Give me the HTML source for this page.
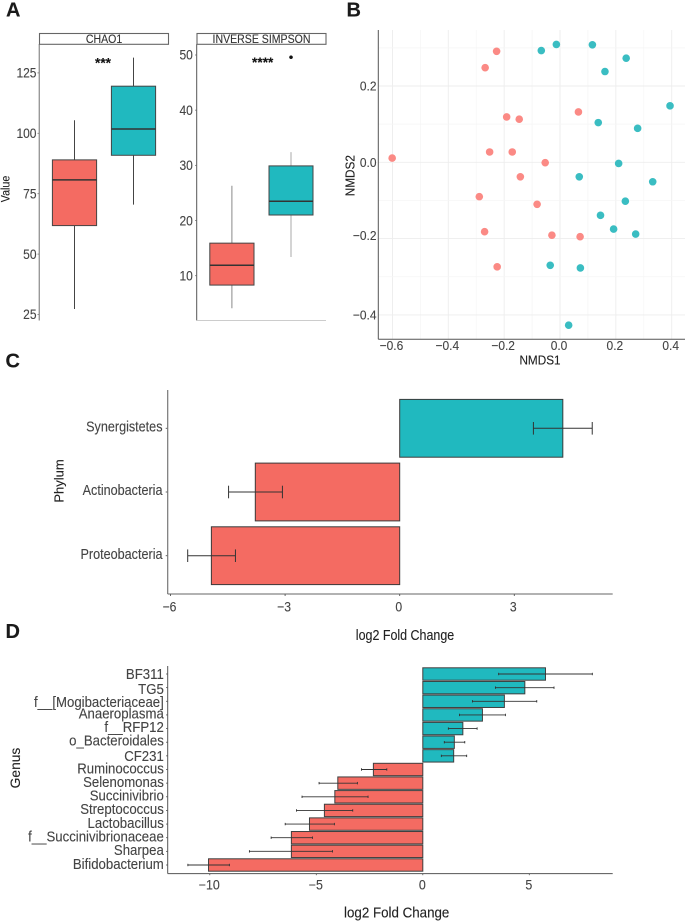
<!DOCTYPE html>
<html lang="en">
<head>
<meta charset="utf-8">
<title>Microbiome comparison figure</title>
<style>
html,body{margin:0;padding:0;background:#fff;}
#figure{display:block;width:685px;height:921px;font-family:"Liberation Sans",sans-serif;filter:blur(.3px);}
#figure text{stroke:currentColor;stroke-width:.12px;}
</style>
</head>
<body>
<svg id="figure" width="685" height="921" viewBox="0 0 685 921" xmlns="http://www.w3.org/2000/svg">
  <g id="panelA"></g>
  <g id="panelB"></g>
  <g id="panelC"></g>
  <g id="panelD"></g>
</svg>
<script>
/* ---------- Panel A data: [whisker low, q1, median, q3, whisker high] ---------- */
const chaoTicks = [25, 50, 75, 100, 125];
const chaoRedBox = [27.3, 61.8, 80.7, 89, 105.4];
const chaoTealBox = [70.5, 90.9, 101.8, 119.5, 131.3];
const simpsonTicks = [10, 20, 30, 40, 50];
const simpsonRedBox = [4.1, 8.3, 11.9, 15.9, 26.3];
const simpsonTealBox = [13.4, 21, 23.5, 29.9, 32.4];

/* ---------- Panel B data ---------- */
const nmds1Ticks = [-0.6, -0.4, -0.2, 0, 0.2, 0.4];
const nmds2Ticks = [-0.4, -0.2, 0, 0.2];
const redNmds1 = [-0.227, -0.268, -0.191, -0.146, 0.066, -0.252, -0.171, -0.601, -0.053, -0.142, -0.289, -0.082, -0.270, -0.029, 0.072, -0.225];
const redNmds2 = [0.291, 0.248, 0.119, 0.113, 0.132, 0.027, 0.027, 0.011, -0.001, -0.038, -0.090, -0.110, -0.182, -0.191, -0.195, -0.274];
const tealNmds1 = [-0.067, -0.013, 0.116, 0.237, 0.161, 0.394, 0.137, 0.278, 0.210, 0.069, 0.332, 0.234, 0.145, 0.192, 0.271, -0.035, 0.073, 0.031];
const tealNmds2 = [0.293, 0.309, 0.308, 0.273, 0.238, 0.148, 0.104, 0.089, -0.003, -0.038, -0.051, -0.102, -0.139, -0.175, -0.188, -0.270, -0.277, -0.427];

/* ---------- Panel C data ---------- */
const phylumTicks = [-6, -3, 0, 3];
const phylumNames = ['Synergistetes', 'Actinobacteria', 'Proteobacteria'];
const phylumFold = [4.27, -3.78, -4.93];
const phylumErrLow = [3.5, -4.48, -5.55];
const phylumErrHigh = [5.04, -3.07, -4.3];

/* ---------- Panel D data ---------- */
const genusTicks = [-10, -5, 0, 5];
const genusNames = ['BF311', 'TG5', 'f__[Mogibacteriaceae]', 'Anaeroplasma', 'f__RFP12', 'o_Bacteroidales', 'CF231', 'Ruminococcus', 'Selenomonas', 'Succinivibrio', 'Streptococcus', 'Lactobacillus', 'f__Succinivibrionaceae', 'Sharpea', 'Bifidobacterium'];
const genusFold = [5.76, 4.79, 3.83, 2.8, 1.88, 1.48, 1.45, -2.32, -3.99, -4.13, -4.62, -5.32, -6.17, -6.17, -10.06];
const genusErrLow = [3.56, 3.41, 2.33, 1.72, 1.2, 1.01, 0.87, -2.88, -4.87, -5.67, -5.93, -6.46, -7.12, -8.14, -11.03];
const genusErrHigh = [7.96, 6.16, 5.35, 3.88, 2.55, 1.97, 2.06, -1.69, -3.07, -2.57, -3.29, -4.15, -5.18, -4.24, -9.08];

/* ---------- Helpers ---------- */
const NS = 'http://www.w3.org/2000/svg';
const RED = '#F46B62', TEAL = '#20B9BF', RED_PT = '#FB8A85', TEAL_PT = '#3ABDC2', TXT = '#444';
const scale = (d0, d1, r0, r1) => v => r0 + (v - d0) * (r1 - r0) / (d1 - d0);
const fmt = v => String(v).replace('-', '\u2212');

function add(parent, tag, attrs) {
  const n = document.createElementNS(NS, tag);
  for (const k in attrs) n.setAttribute(k, attrs[k]);
  parent.appendChild(n);
  return n;
}
function line(parent, x1, y1, x2, y2, stroke, w) {
  return add(parent, 'line', { x1, y1, x2, y2, stroke, 'stroke-width': w });
}
function label(parent, str, x, y, size, anchor, fill, sx, rot) {
  const t = add(parent, 'text', { 'font-size': size, 'text-anchor': anchor, fill, color: fill, y: size * 0.35, x: 0 });
  let tf = 'translate(' + x + ' ' + y + ')';
  if (rot) tf += ' rotate(-90)';
  if (sx) tf += ' scale(' + sx + ' 1)';
  t.setAttribute('transform', tf);
  t.textContent = str;
  return t;
}

/* ---------- Panel letters ---------- */
const fig = document.getElementById('figure');
[['A', 6, 9.5], ['B', 346.5, 9.5], ['C', 5.5, 360.5], ['D', 5.5, 631]].forEach(p => {
  const t = label(fig, p[0], p[1], p[2], 20, 'start', '#1a1a1a');
  t.setAttribute('font-weight', 'bold');
  
  
});

/* ---------- Panel A ---------- */
const A = document.getElementById('panelA');
function drawBox(parent, y, box, x0, x1, fill, wStroke) {
  const [lo, q1, med, q3, hi] = box;
  const cx = (x0 + x1) / 2;
  const wu = line(parent, cx, y(q3), cx, y(hi), wStroke, 1);
  
  
  const wl = line(parent, cx, y(q1), cx, y(lo), wStroke, 1);
  
  
  const r = add(parent, 'rect', { x: x0, y: y(q3), width: x1 - x0, height: y(q1) - y(q3), fill, stroke: '#444', 'stroke-width': 1 });
  
  
  const m = line(parent, x0, y(med), x1, y(med), '#333', 1.5);
  
  
}
function drawStrip(parent, x0, x1, str) {
  const r = add(parent, 'rect', { x: x0, y: 33.5, width: x1 - x0, height: 10.8, fill: '#fff', stroke: '#666', 'stroke-width': 1.1 });
  
  
  const t = label(parent, str, (x0 + x1) / 2, 39, 12, 'middle', '#333', 0.88);
  
  
}
const yChao = scale(25, 125, 314.5, 72.9);
const ySimp = scale(10, 50, 275.7, 55);

const axA1 = line(A, 39.3, 44, 39.3, 320.5, '#999', 1.4);


chaoTicks.forEach(v => {
  const tk = line(A, 37.5, yChao(v), 39, yChao(v), '#777', 0.8);
  
  
  const t = label(A, fmt(v), 36.5, yChao(v), 13.5, 'end', TXT, 0.89);
  
  
});
drawBox(A, yChao, chaoRedBox, 52.4, 96.6, RED, '#444');
drawBox(A, yChao, chaoTealBox, 111.4, 155.6, TEAL, '#444');
drawStrip(A, 39.5, 168.5, 'CHAO1');

const axA2 = line(A, 196.7, 44, 196.7, 320.5, '#555', 1);


const axA2x = line(A, 196.7, 320.5, 326, 320.5, '#ccc', 1);


simpsonTicks.forEach(v => {
  const tk = line(A, 195, ySimp(v), 196.5, ySimp(v), '#777', 0.8);
  
  
  const t = label(A, fmt(v), 192.8, ySimp(v), 13.5, 'end', TXT, 0.89);
  
  
});
drawBox(A, ySimp, simpsonRedBox, 209.8, 254, RED, '#888');
drawBox(A, ySimp, simpsonTealBox, 269, 313, TEAL, '#aaa');
drawStrip(A, 197, 326, 'INVERSE SIMPSON');

const sig1 = label(A, '***', 103, 62.5, 13.7, 'middle', '#111');
sig1.setAttribute('font-weight', 'bold');


const sig2 = label(A, '****', 262.7, 62, 13.7, 'middle', '#111');
sig2.setAttribute('font-weight', 'bold');


const sig3 = label(A, '\u2022', 291, 57, 13, 'middle', '#111');


const valT = label(A, 'Value', 5.5, 189, 12, 'middle', '#222', 0.89, true);



/* ---------- Panel B ---------- */
const B = document.getElementById('panelB');
const xB = scale(0, 0.4, 560, 671.7);
const yB = scale(0, 0.2, 162.3, 86);
const bLeft = 378.3, bRight = 685, bTop = 30, bBottom = 339.3;
function gridStep(v) { return Math.round(v * 1000) / 1000; }
nmds1Ticks.forEach(v => {
  const g = line(B, xB(v), bTop, xB(v), bBottom, '#ededed', 0.9);
  
  
  const mid = gridStep(v + 0.1);
  if (mid < 0.45) {
    const m = line(B, xB(mid), bTop, xB(mid), bBottom, '#f5f5f5', 0.7);
    
    
  }
});
nmds2Ticks.forEach(v => {
  const g = line(B, bLeft, yB(v), bRight, yB(v), '#ededed', 0.9);
  
  
  const mid = gridStep(v + 0.1);
  const m = line(B, bLeft, yB(mid), bRight, yB(mid), '#f5f5f5', 0.7);
  
  
});
const axBy = line(B, bLeft, bTop, bLeft, bBottom, '#555', 1);


const axBx = line(B, bLeft, bBottom, bRight, bBottom, '#555', 1);


nmds1Ticks.forEach(v => {
  const t = label(B, fmt(v === 0 ? '0.0' : v), xB(v) - 1, 345.5, 13, 'middle', TXT, 0.92);
  
  
});
nmds2Ticks.forEach(v => {
  const nudge = v === -0.2 ? -3 : 0;
  const t = label(B, fmt(v === 0 ? '0.0' : v), 376.5, yB(v) + nudge, 13, 'end', TXT, 0.92);
  
  
});
redNmds1.forEach((v, i) => {
  const c = add(B, 'circle', { cx: xB(v), cy: yB(redNmds2[i]), r: 3.8, fill: RED_PT });
  
  
});
tealNmds1.forEach((v, i) => {
  const c = add(B, 'circle', { cx: xB(v), cy: yB(tealNmds2[i]), r: 3.8, fill: TEAL_PT });
  
  
});
const n1 = label(B, 'NMDS1', 540, 360, 12.5, 'middle', '#222', 0.94);


const n2 = label(B, 'NMDS2', 350, 175.7, 12.5, 'middle', '#222', 0.94, true);



/* ---------- Panel C ---------- */
const C = document.getElementById('panelC');
const xC = scale(0, 3, 399.7, 514.3);
const yC = scale(0, 1, 428.3, 492);
phylumNames.forEach((name, i) => {
  const y = yC(i), v = phylumFold[i];
  const r = add(C, 'rect', { x: Math.min(xC(0), xC(v)), y: y - 28.9, width: Math.abs(xC(v) - xC(0)), height: 57.8, fill: v > 0 ? TEAL : RED, stroke: '#3a3a3a', 'stroke-width': 1 });
  
  
  const e = line(C, xC(phylumErrLow[i]), y, xC(phylumErrHigh[i]), y, '#333', 1);
  
  
  [phylumErrLow[i], phylumErrHigh[i]].forEach(ev => {
    const cap = line(C, xC(ev), y - 6.3, xC(ev), y + 6.3, '#333', 1);
    
    
  });
  const tk = line(C, 165.7, y, 167.5, y, '#555', 0.9);
  
  
  const t = label(C, name, 162.5, y - 2, 14.5, 'end', TXT, 0.87);
  
  
});
const axCy = line(C, 167.7, 390, 167.7, 594, '#777', 1.2);


const axCx = line(C, 167.7, 594, 612.7, 594, '#666', 1.1);


phylumTicks.forEach(v => {
  const tk = line(C, xC(v), 594, xC(v), 596, '#555', 0.9);
  
  
  const t = label(C, fmt(v), xC(v) - 1, 606.7, 14, 'middle', TXT, 0.87);
  
  
});
const cT = label(C, 'log2 Fold Change', 405, 635, 14.5, 'middle', '#222', 0.86);


const cY = label(C, 'Phylum', 59, 481, 13, 'middle', '#222', null, true);



/* ---------- Panel D ---------- */
const D = document.getElementById('panelD');
const xD = scale(0, 5, 422.8, 529.3);
const yD = scale(0, 14, 674, 865);
const labelNudge = { 'BF311': 0, 'TG5': 1.3, 'f__[Mogibacteriaceae]': 0.7, 'Anaeroplasma': -1.7, 'f__RFP12': -1.7, 'o_Bacteroidales': -1.7, 'CF231': 0 };
genusNames.forEach((name, i) => {
  const y = yD(i), v = genusFold[i];
  const r = add(D, 'rect', { x: Math.min(xD(0), xD(v)), y: y - 6.2, width: Math.abs(xD(v) - xD(0)), height: 12.4, fill: v > 0 ? TEAL : RED, stroke: '#3f3f3f', 'stroke-width': 1 });
  
  
});
genusNames.forEach((name, i) => {
  const y = yD(i);
  const e = line(D, xD(genusErrLow[i]), y, xD(genusErrHigh[i]), y, '#333', 0.9);
  
  
  [genusErrLow[i], genusErrHigh[i]].forEach(ev => {
    const cap = line(D, xD(ev), y - 1.2, xD(ev), y + 1.2, '#333', 0.9);
    
    
  });
  const tk = line(D, 166, y, 167.5, y, '#555', 0.8);
  
  
  const nudge = name in labelNudge ? labelNudge[name] : -1.3;
  const t = label(D, name, 163.8, y + nudge, 14.5, 'end', TXT, 0.91);
  
  
});
const axDy = line(D, 167.7, 666, 167.7, 873.6, '#555', 1);


const axDx = line(D, 167.7, 873.6, 612.7, 873.6, '#555', 1);


genusTicks.forEach(v => {
  const tk = line(D, xD(v), 873.6, xD(v), 875.2, '#555', 0.8);
  
  
  const t = label(D, fmt(v), xD(v) - 0.5, 885, 13.5, 'middle', TXT, 0.92);
  
  
});
const dT = label(D, 'log2 Fold Change', 396.7, 912.3, 15, 'middle', '#222', 0.89);


const dY = label(D, 'Genus', 15, 768, 13.8, 'middle', '#222', null, true);


</script>
</body>
</html>
